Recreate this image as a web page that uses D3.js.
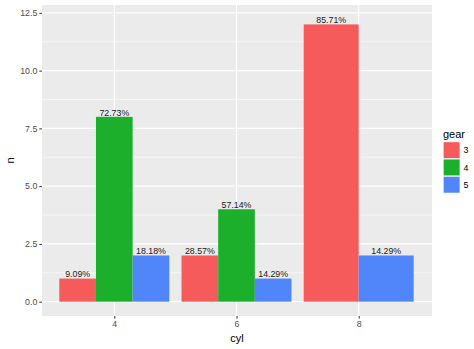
<!DOCTYPE html>
<html>
<head>
<meta charset="utf-8">
<script src="https://cdn.jsdelivr.net/npm/d3@7"></script>
<style>
  body { margin: 0; background: #fff; }
  text { font-family: "Liberation Sans", Arial, sans-serif; }
</style>
</head>
<body>
<svg id="chart" width="474" height="349"></svg>
<script>
// Car counts by cylinders and gears
const cylinders = ["4", "6", "8"];
const gearLevels = ["3", "4", "5"];
const gear3 = [1, 2, 12];
const gear4 = [8, 4, 0];
const gear5 = [2, 1, 2];
const yTicks = [0, 2.5, 5, 7.5, 10, 12.5];
const gearColors = ["#F45B5A", "#1BAF2C", "#5086F9"];

const series = [gear3, gear4, gear5];
const rows = [];
cylinders.forEach((c, i) => {
  const present = gearLevels.map((g, j) => ({ gear: g, n: series[j][i] })).filter(d => d.n > 0);
  const total = d3.sum(present, d => d.n);
  present.forEach((d, k) => rows.push({
    cyl: c, gear: d.gear, n: d.n, slot: k, slots: present.length,
    pct: (d.n / total * 100).toFixed(2) + "%"
  }));
});

const svg = d3.select("#chart");
const panel = { left: 42, right: 432, top: 5, bottom: 316 };

const x = d3.scalePoint().domain(cylinders).range([114.3, 358.7]);
const step = x.step();
const y = d3.scaleLinear().domain([-0.62, 12.84]).range([panel.bottom, panel.top]);

// panel
svg.append("rect")
  .attr("x", panel.left).attr("y", panel.top)
  .attr("width", panel.right - panel.left).attr("height", panel.bottom - panel.top)
  .attr("fill", "#EBEBEB");

const g = svg.append("g");
// minor grid
const minor = yTicks.slice(0, -1).map(t => t + 1.25);
g.selectAll(".minor").data(minor).join("line")
  .attr("x1", panel.left).attr("x2", panel.right)
  .attr("y1", d => y(d)).attr("y2", d => y(d))
  .attr("stroke", "#fff").attr("stroke-width", 0.55);
// major grid
g.selectAll(".hmajor").data(yTicks).join("line")
  .attr("x1", panel.left).attr("x2", panel.right)
  .attr("y1", d => y(d)).attr("y2", d => y(d))
  .attr("stroke", "#fff").attr("stroke-width", 1.1);
g.selectAll(".vmajor").data(cylinders).join("line")
  .attr("x1", d => x(d)).attr("x2", d => x(d))
  .attr("y1", panel.top).attr("y2", panel.bottom)
  .attr("stroke", "#fff").attr("stroke-width", 1.1);

// bars (dodged within each cylinder group)
const groupWidth = 0.9 * step;
const barX = d => x(d.cyl) - groupWidth / 2 + d.slot * groupWidth / d.slots;
const barW = d => groupWidth / d.slots;
const colorOf = d3.scaleOrdinal().domain(gearLevels).range(gearColors);

svg.append("g").selectAll("rect").data(rows).join("rect")
  .attr("x", barX).attr("width", barW)
  .attr("y", d => y(d.n)).attr("height", d => y(0) - y(d.n))
  .attr("fill", d => colorOf(d.gear));

svg.append("g").selectAll("text").data(rows).join("text")
  .attr("x", d => barX(d) + barW(d) / 2)
  .attr("y", d => y(d.n) - 1.2)
  .attr("text-anchor", "middle")
  .attr("font-size", 8.8)
  .attr("fill", "#1a1a1a")
  .text(d => d.pct);

// axes
const yAxis = svg.append("g").attr("transform", `translate(${panel.left},0)`)
  .call(d3.axisLeft(y).tickValues(yTicks).tickFormat(d3.format(".1f")).tickSize(2.7).tickPadding(2));
const xAxis = svg.append("g").attr("transform", `translate(0,${panel.bottom})`)
  .call(d3.axisBottom(x).tickSize(2.7).tickPadding(2));
[yAxis, xAxis].forEach(a => {
  a.select(".domain").remove();
  a.selectAll(".tick line").attr("stroke", "#333").attr("stroke-width", 1);
  a.selectAll(".tick text").attr("fill", "#4D4D4D").attr("font-size", 8.8)
    .style("font-family", "'Liberation Sans', Arial, sans-serif");
});

svg.append("text").attr("x", (panel.left + panel.right) / 2).attr("y", 342)
  .attr("text-anchor", "middle").attr("font-size", 11).attr("fill", "#000").text("cyl");
svg.append("text").attr("transform", `translate(14,${(panel.top + panel.bottom) / 2}) rotate(-90)`)
  .attr("text-anchor", "middle").attr("font-size", 11).attr("fill", "#000").text("n");

// legend
const lg = svg.append("g").attr("transform", "translate(443,0)");
lg.append("text").attr("x", 0).attr("y", 138).attr("font-size", 11).attr("fill", "#000").text("gear");
gearLevels.forEach((gear, i) => {
  const ky = 141.5 + i * 17.3;
  lg.append("rect").attr("x", 0).attr("y", ky).attr("width", 17.3).attr("height", 17.3).attr("fill", "#F2F2F2");
  lg.append("rect").attr("x", 0.7).attr("y", ky + 0.7).attr("width", 15.9).attr("height", 15.9).attr("fill", colorOf(gear));
  lg.append("text").attr("x", 20.5).attr("y", ky + 8.65).attr("dy", "0.35em")
    .attr("font-size", 8.8).attr("fill", "#000").text(gear);
});
</script>
</body>
</html>
